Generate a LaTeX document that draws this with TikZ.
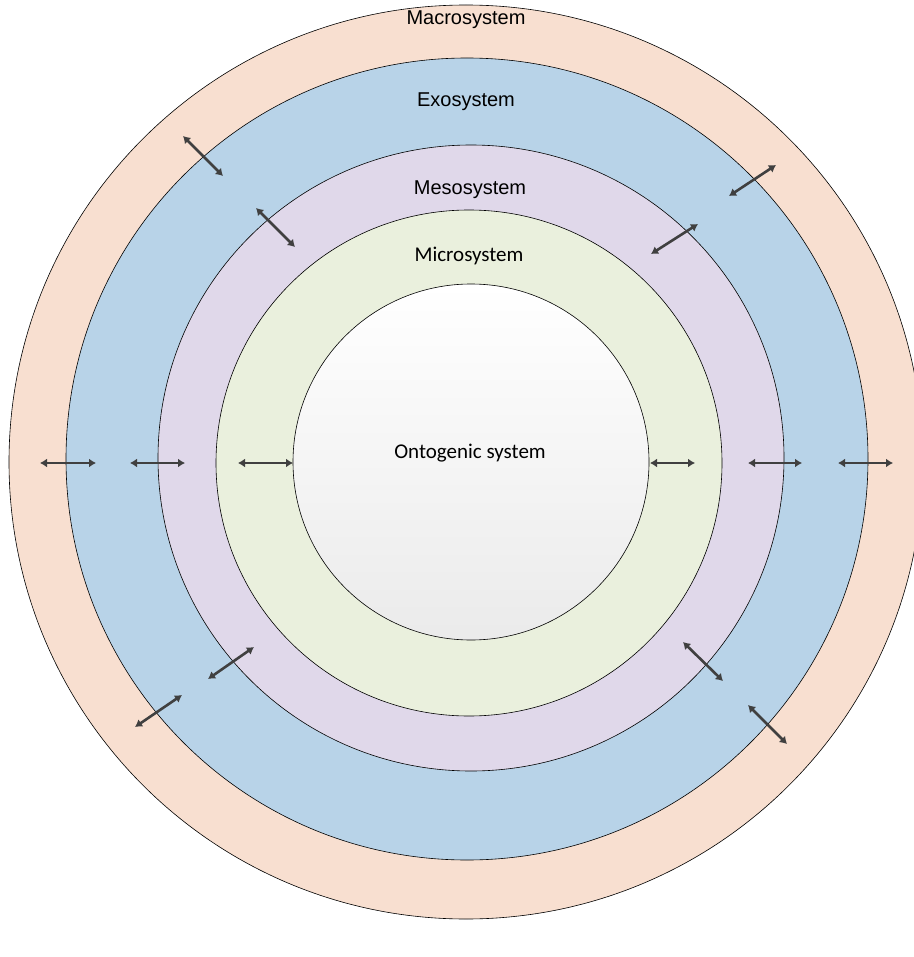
\documentclass[tikz,border=0pt]{standalone}
\usepackage{fontspec}
\setmainfont{Liberation Sans}
\newfontfamily\calib{Carlito}
\usetikzlibrary{arrows.meta}
\definecolor{macroC}{HTML}{F8DFD0}
\definecolor{exoC}{HTML}{B8D3E8}
\definecolor{mesoC}{HTML}{E0D8EA}
\definecolor{microC}{HTML}{EAF0DD}
\definecolor{arrC}{HTML}{404040}
\tikzset{ring/.style={draw=black,line width=0.6pt},
 dbl/.style={arrC,line width=2.6pt,{Latex[length=7pt,width=9pt]}-{Latex[length=7pt,width=9pt]}},
 lab/.style={font=\fontsize{20}{22}\selectfont}}
\begin{document}
\begin{tikzpicture}[x=1pt,y=-1pt]
\useasboundingbox (0,0) rectangle (913,957);
\fill[white] (0,0) rectangle (913,957);
\draw[ring,fill=macroC] (466,462) circle (457);
\draw[ring,fill=exoC] (467,459) circle (401);
\draw[ring,fill=mesoC] (471,458) circle (313);
\draw[ring,fill=microC] (469,463) circle (253);
\shade[top color=white,bottom color=black!8] (471,462) circle (178);
\draw[ring] (471,462) circle (178);
\node[lab] (macro) at (466,20) {Macrosystem};
\node[lab] (exo) at (466,102) {Exosystem};
\node[lab] (meso) at (470,190) {Mesosystem};
\node[lab,font=\calib\fontsize{21}{22}\selectfont] (micro) at (469,256) {Microsystem};
\node[lab,font=\calib\fontsize{21}{22}\selectfont] (onto) at (470,453) {Ontogenic system};
\foreach \a/\b/\c/\d [count=\i] in {40/463/96/463,130/463/185/463,238/463/293/463,650/463/695/463,748/463/802/463,838/463/893/463,
 183/136/223/176,256/208/295/247,729/196/776/165,651/254/698/224,208/679/254/647,135/727/182/695,683/642/723/681,748/705/787/744}{
 \coordinate (s\i) at (\a,\b); \coordinate (e\i) at (\c,\d);
 \draw[dbl] (s\i) -- (e\i);}
\end{tikzpicture}
\end{document}
